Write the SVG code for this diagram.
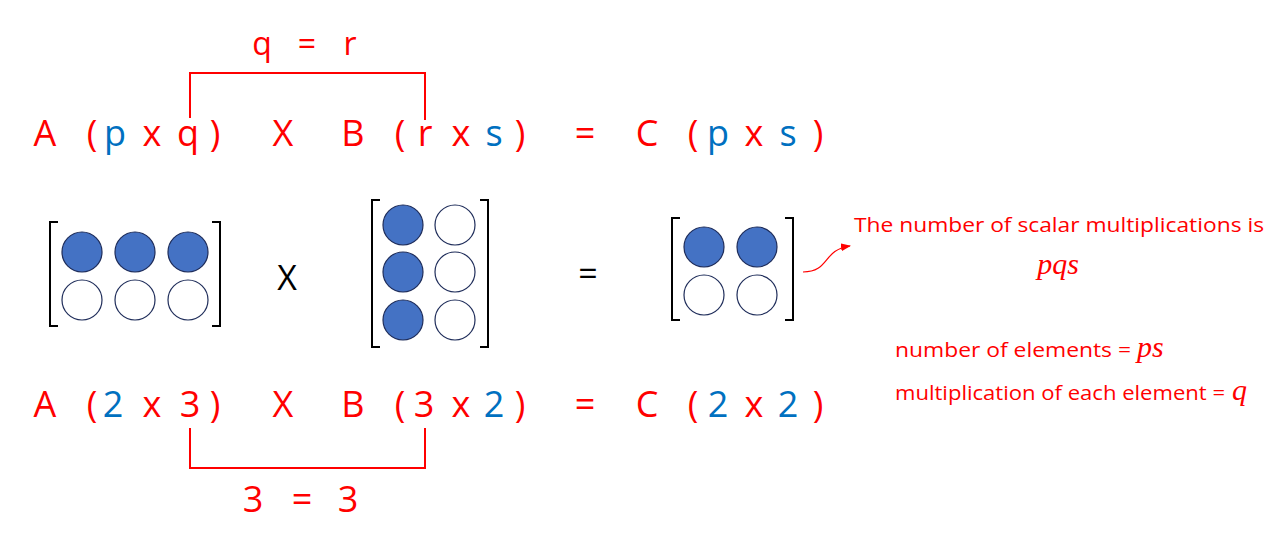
<svg xmlns="http://www.w3.org/2000/svg" width="1280" height="552" viewBox="0 0 1280 552">
<defs>
<style>
.r{fill:#f00}.b{fill:#0070c0}.k{fill:#000}
.eq{font-family:"Open Sans","DejaVu Sans",sans-serif;font-size:36px;text-anchor:middle}
.note{font-family:"Open Sans","DejaVu Sans",sans-serif;font-size:20px;fill:#f00}
.m{font-family:"Liberation Serif",serif;font-style:italic;fill:#f00}
.br{fill:none;stroke:#f00;stroke-width:2}
.mb{fill:none;stroke:#000;stroke-width:2}
.f{fill:#4472c4;stroke:#1f2d5a;stroke-width:1.2}
.w{fill:#fff;stroke:#1f2d5a;stroke-width:1.2}
</style>
<marker id="ah" markerWidth="10" markerHeight="8" refX="9" refY="4" orient="auto" markerUnits="userSpaceOnUse"><path d="M0,0 L10,4 L0,8 Z" fill="#f00"/></marker>
</defs>
<rect width="1280" height="552" fill="#fff"/>
<g id="top-formula" class="eq">
<text x="45" y="146" class="r">A</text><text x="92" y="146" class="r">(</text><text x="115" y="146" class="b">p</text><text x="152" y="146" class="r">x</text><text x="188" y="146" class="r">q</text><text x="215" y="146" class="r">)</text>
<text x="283" y="146" class="r">X</text>
<text x="353" y="146" class="r">B</text><text x="400" y="146" class="r">(</text><text x="425" y="146" class="r">r</text><text x="461" y="146" class="r">x</text><text x="494" y="146" class="b">s</text><text x="520" y="146" class="r">)</text>
<text x="585" y="146" class="r">=</text>
<text x="647" y="146" class="r">C</text><text x="693" y="146" class="r">(</text><text x="718" y="146" class="b">p</text><text x="754" y="146" class="r">x</text><text x="788" y="146" class="b">s</text><text x="818" y="146" class="r">)</text>
<text x="262" y="55" class="r" style="font-size:32px">q</text><text x="307" y="55" class="r" style="font-size:32px">=</text><text x="350" y="55" class="r" style="font-size:32px">r</text>
</g>
<g id="bottom-formula" class="eq">
<text x="45" y="417" class="r">A</text><text x="92" y="417" class="r">(</text><text x="113" y="417" class="b">2</text><text x="152" y="417" class="r">x</text><text x="190" y="417" class="r">3</text><text x="215" y="417" class="r">)</text>
<text x="283" y="417" class="r">X</text>
<text x="353" y="417" class="r">B</text><text x="400" y="417" class="r">(</text><text x="424" y="417" class="r">3</text><text x="461" y="417" class="r">x</text><text x="494" y="417" class="b">2</text><text x="520" y="417" class="r">)</text>
<text x="585" y="417" class="r">=</text>
<text x="647" y="417" class="r">C</text><text x="693" y="417" class="r">(</text><text x="718" y="417" class="b">2</text><text x="754" y="417" class="r">x</text><text x="788" y="417" class="b">2</text><text x="818" y="417" class="r">)</text>
<text x="253" y="512" class="r">3</text><text x="302" y="512" class="r">=</text><text x="348" y="512" class="r">3</text>
</g>
<g id="connectors">
<path class="br" d="M190,118 V73 H425 V120"/>
<path class="br" d="M190,428 V468 H425 V428"/>
<path d="M803,272 C830,272 822,250 850,246" fill="none" stroke="#f00" stroke-width="1.2" marker-end="url(#ah)"/>
</g>
<g id="matrix-a">
<path class="mb" d="M58,222 H50 V326 H58 M212,222 H220 V326 H212"/>
<circle class="f" cx="82" cy="252" r="20"/><circle class="f" cx="135" cy="252" r="20"/><circle class="f" cx="188" cy="252" r="20"/>
<circle class="w" cx="82" cy="300" r="20"/><circle class="w" cx="135" cy="300" r="20"/><circle class="w" cx="188" cy="300" r="20"/>
</g>
<text x="287" y="290" class="eq k" style="font-size:34px">X</text>
<g id="matrix-b">
<path class="mb" d="M380,200 H372 V347 H380 M480,200 H488 V347 H480"/>
<circle class="f" cx="403" cy="225" r="20"/><circle class="w" cx="455" cy="225" r="20"/>
<circle class="f" cx="403" cy="272" r="20"/><circle class="w" cx="455" cy="272" r="20"/>
<circle class="f" cx="403" cy="320" r="20"/><circle class="w" cx="455" cy="320" r="20"/>
</g>
<text x="588" y="286" class="eq k" style="font-size:34px">=</text>
<g id="matrix-c">
<path class="mb" d="M680,218 H672 V320 H680 M785,218 H793 V320 H785"/>
<circle class="f" cx="704" cy="247" r="20"/><circle class="f" cx="757" cy="247" r="20"/>
<circle class="w" cx="704" cy="295" r="20"/><circle class="w" cx="757" cy="295" r="20"/>
</g>
<g id="notes">
<text x="854" y="232" class="note" textLength="410" lengthAdjust="spacingAndGlyphs">The number of scalar multiplications is</text>
<text x="1058" y="274" class="m" text-anchor="middle" style="font-size:30px">pqs</text>
<text x="895" y="357" class="note" textLength="236" lengthAdjust="spacingAndGlyphs">number of elements =</text>
<text x="1137" y="357" class="m" style="font-size:30px">ps</text>
<text x="895" y="400" class="note" textLength="330" lengthAdjust="spacingAndGlyphs">multiplication of each element =</text>
<text x="1232" y="400" class="m" style="font-size:30px">q</text>
</g>
</svg>
